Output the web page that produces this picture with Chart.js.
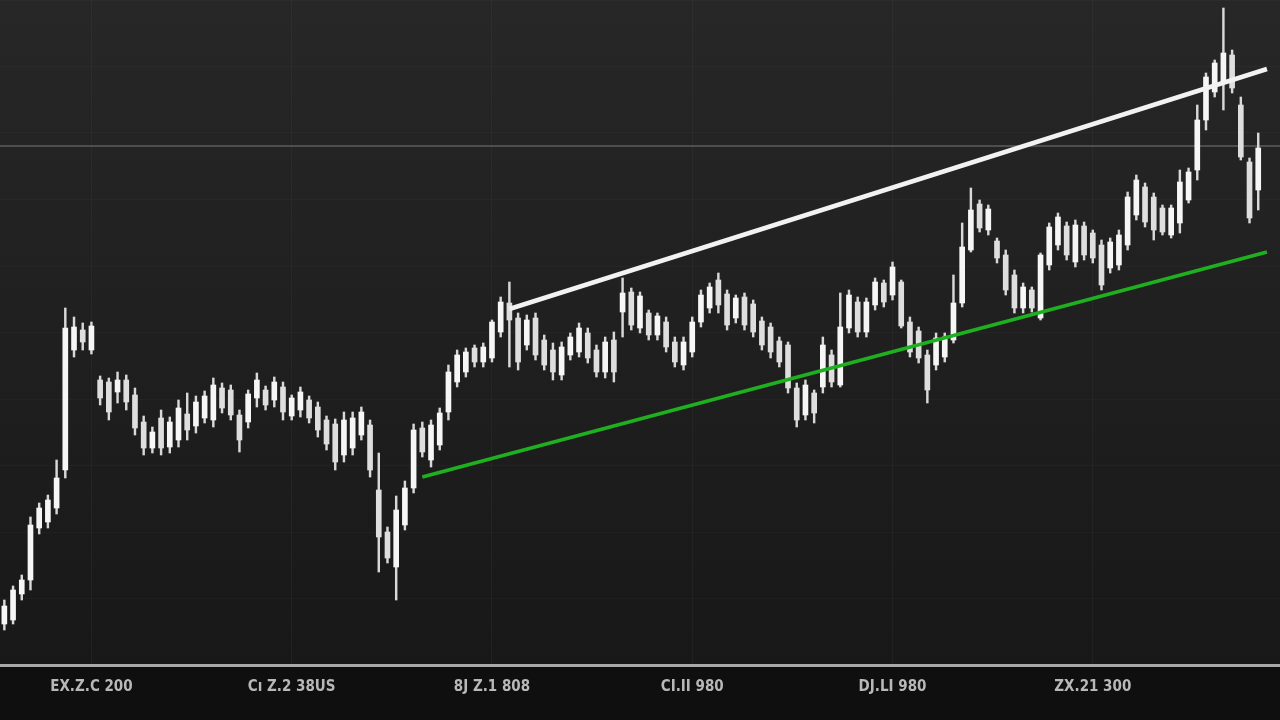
<!DOCTYPE html>
<html>
<head>
<meta charset="utf-8">
<script src="https://cdn.jsdelivr.net/npm/chart.js@4.4.1/dist/chart.umd.min.js"></script>
<style>
  html, body { margin: 0; padding: 0; background: #0f0f0f; }
  #wrap { width: 1280px; height: 720px; position: relative; }
</style>
</head>
<body>
<div id="wrap"><canvas id="chart"></canvas></div>
<script>
// candles (price units)
const opens = [41,45,71,85,137,143,157,195,315,335,315,285,283,273,285,270,243,217,247,218,
  225,251,239,247,245,277,275,250,243,267,275,265,278,249,255,265,258,245,241,210,
  217,230,240,175,133,98,140,177,237,205,220,253,283,293,317,303,307,333,362,347,
  320,347,325,315,290,310,313,332,315,293,325,353,373,337,352,330,343,323,300,313,
  343,357,385,371,347,368,361,344,338,324,320,277,250,272,278,310,280,337,363,333,
  360,382,370,383,343,334,310,300,308,325,362,415,461,435,424,410,390,357,375,347,
  400,420,439,403,439,432,420,397,400,420,450,478,468,457,430,442,465,495,545,573,
  582,610,560,503,475];
const closes = [59,75,85,140,157,165,187,337,338,323,339,267,253,285,263,237,217,233,217,243,
  257,235,263,269,280,257,250,225,271,285,260,283,253,267,273,247,235,221,203,245,
  247,253,195,128,107,155,177,235,213,240,252,293,310,313,303,318,343,363,345,303,
  345,310,300,293,318,328,337,307,293,323,293,372,340,369,330,349,318,303,323,343,
  370,378,360,340,367,340,333,320,313,303,277,245,280,252,320,283,338,370,333,363,
  383,363,398,339,313,307,275,327,328,362,418,455,437,456,407,375,357,378,357,410,
  438,448,410,440,410,407,380,423,430,468,485,443,435,433,457,483,493,545,588,602,
  612,577,508,447,517];
const highs = [65,79,90,148,162,170,205,357,348,342,343,289,287,293,290,277,249,238,255,248,
  265,272,269,274,287,282,280,255,275,292,279,288,283,270,278,269,263,249,246,253,
  253,258,245,212,138,169,184,241,243,245,257,300,315,317,320,322,345,368,383,352,
  350,352,330,322,323,332,342,337,320,328,333,387,377,373,355,352,348,328,328,348,
  375,382,392,375,370,372,365,348,342,328,323,282,285,275,328,315,372,375,368,367,
  387,385,403,385,348,338,315,332,332,390,442,477,465,460,427,415,395,382,378,412,
  442,452,443,445,443,435,425,427,435,473,490,482,472,460,460,495,497,560,592,605,
  657,615,568,507,532];
const lows = [35,41,65,75,131,137,151,187,308,315,311,260,245,262,255,230,210,212,210,212,
  218,225,232,242,238,252,245,213,237,258,255,258,245,245,248,242,228,215,195,203,
  210,225,188,93,102,65,135,172,208,198,215,245,278,288,298,298,303,328,298,295,
  315,305,295,285,285,305,308,302,288,287,283,328,335,332,325,325,313,298,295,308,
  338,352,352,335,342,335,328,315,307,298,272,238,245,242,272,278,278,332,328,328,
  355,358,365,337,308,302,262,295,303,322,358,413,433,430,402,370,352,352,353,345,
  395,415,405,398,405,402,375,392,395,415,445,438,425,430,427,432,462,485,535,568,
  555,572,505,442,455];

const slots = 147;
const tickIndex = [10, 33, 56, 79, 102, 125];
const tickLabels = ['EX.Z.C 200', 'Cı Z.2 38US', '8J Z.1 808', 'CI.II 980', 'DJ.LI 980', 'ZX.21 300'];

// trend lines (start slot, start price, end slot, end price)
const whiteLine = [58, 356, 145, 596];
const greenLine = [48, 188, 145, 413];
const refLevel = 519;

const labels = [];
for (let i = 0; i < slots; i++) {
  const k = tickIndex.indexOf(i);
  labels.push(k >= 0 ? tickLabels[k] : '');
}

const wicks = highs.map((h, i) => [lows[i], h]);
const bodies = opens.map((o, i) => [o, closes[i]]);
const bodyColors = opens.map((o, i) => closes[i] >= o ? '#f6f6f6' : '#dedede');

function trend(seg) {
  const arr = new Array(slots).fill(null);
  arr[seg[0]] = seg[1];
  arr[seg[2]] = seg[3];
  return arr;
}

const backdrop = {
  id: 'backdrop',
  beforeDraw(chart) {
    const { ctx, chartArea: a } = chart;
    ctx.save();
    ctx.fillStyle = '#0f0f0f';
    ctx.fillRect(0, 0, chart.width, chart.height);
    const g = ctx.createLinearGradient(0, a.top, 0, a.bottom);
    g.addColorStop(0, '#272727');
    g.addColorStop(1, '#181818');
    ctx.fillStyle = g;
    ctx.fillRect(a.left, a.top, a.right - a.left, a.bottom - a.top);
    ctx.restore();
  },
  beforeDatasetsDraw(chart) {
    const { ctx, chartArea: a } = chart;
    const y = chart.scales.y.getPixelForValue(refLevel);
    ctx.save();
    ctx.strokeStyle = '#5c5c5c';
    ctx.lineWidth = 1.5;
    ctx.beginPath();
    ctx.moveTo(a.left, y);
    ctx.lineTo(a.right, y);
    ctx.stroke();
    ctx.restore();
  }
};

new Chart(document.getElementById('chart'), {
  type: 'bar',
  data: {
    labels: labels,
    datasets: [
      {
        type: 'line',
        data: trend(whiteLine),
        borderColor: '#f2f2f2',
        borderWidth: 4.5,
        pointRadius: 0,
        pointHoverRadius: 0,
        spanGaps: true,
        order: 0
      },
      {
        type: 'line',
        data: trend(greenLine),
        borderColor: '#1fb01f',
        borderWidth: 3.5,
        pointRadius: 0,
        pointHoverRadius: 0,
        spanGaps: true,
        order: 0
      },
      {
        data: bodies,
        backgroundColor: bodyColors,
        barThickness: 5,
        grouped: false,
        order: 1
      },
      {
        data: wicks,
        backgroundColor: '#d8d8d8',
        barThickness: 1.8,
        grouped: false,
        order: 2
      }
    ]
  },
  options: {
    responsive: true,
    maintainAspectRatio: false,
    animation: false,
    layout: { padding: 0, autoPadding: false },
    plugins: {
      legend: { display: false },
      tooltip: { enabled: false }
    },
    scales: {
      x: {
        grid: {
          offset: false,
          drawTicks: false,
          color: (c) => (c.tick && c.tick.label) ? 'rgba(255,255,255,0.035)' : 'rgba(0,0,0,0)'
        },
        border: { color: '#a9a9a9', width: 3 },
        ticks: {
          autoSkip: false,
          maxRotation: 0,
          padding: 13,
          color: '#b8b8b8',
          font: { family: 'DejaVu Sans Condensed', weight: 'bold', size: 15 }
        },
        afterFit: (s) => { s.height = 55; s.paddingLeft = 0; s.paddingRight = 0; }
      },
      y: {
        min: 0,
        max: 665,
        ticks: { display: false, stepSize: 66.5 },
        grid: { drawTicks: false, color: 'rgba(255,255,255,0.025)' },
        border: { display: false },
        afterFit: (s) => { s.width = 0; s.paddingTop = 0; s.paddingBottom = 0; }
      }
    }
  },
  plugins: [backdrop]
});
</script>
</body>
</html>
